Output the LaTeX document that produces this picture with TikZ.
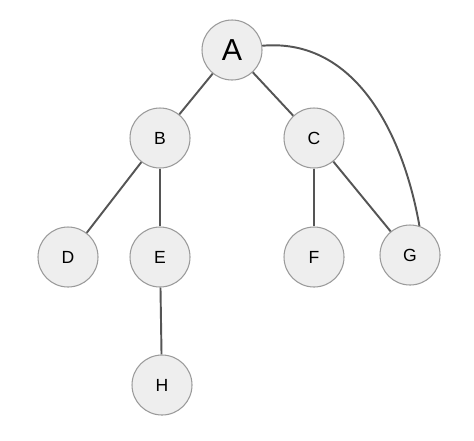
\documentclass[tikz,border=0pt]{standalone}
\usepackage{fontspec}
\setmainfont{Liberation Sans}
\usetikzlibrary{positioning}
\definecolor{nodefill}{HTML}{EEEEEE}
\definecolor{nodeline}{HTML}{9A9A9A}
\definecolor{edgeline}{HTML}{555555}
\tikzset{
  vertex/.style={circle, draw=nodeline, fill=nodefill, line width=0.6pt,
                 minimum size=1.2cm, inner sep=0pt, font=\normalsize},
  root/.style={vertex, font=\LARGE},
  edge/.style={draw=edgeline, line width=1.1pt},
}
\begin{document}
\begin{tikzpicture}[on grid]
  \useasboundingbox (0,0) rectangle (9.48,-8.8);

  % Root and first level
  \node[root] (A) at (4.64,-1.0) {A};
  \node[vertex, below left=1.76cm and 1.44cm of A] (B) {B};
  \node[vertex, below right=1.76cm and 1.64cm of A] (C) {C};

  % Second level
  \node[vertex, below=2.38cm of B] (E) {E};
  \node[vertex, left=1.84cm of E] (D) {D};
  \node[vertex, below=2.38cm of C] (F) {F};
  \node[vertex, right=1.92cm of F, yshift=0.04cm] (G) {G};

  % Third level
  \node[vertex, below=2.56cm of E, xshift=0.04cm] (H) {H};

  % Edges
  \draw[edge] (A) -- (B);
  \draw[edge] (A) -- (C);
  \draw[edge] (B) -- (D);
  \draw[edge] (B) -- (E);
  \draw[edge] (C) -- (F);
  \draw[edge] (C) -- (G);
  \draw[edge] (E) -- (H);
  \draw[edge] (A.8) to[out=5, in=100] (G.72);

\end{tikzpicture}
\end{document}
